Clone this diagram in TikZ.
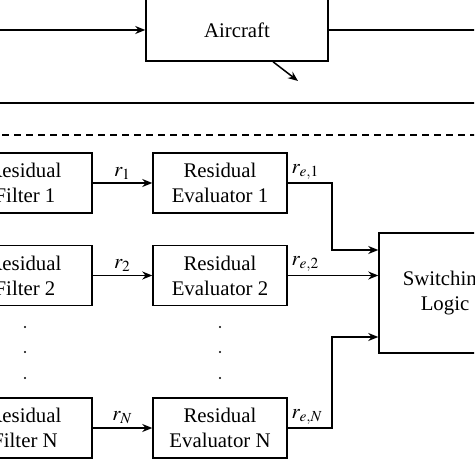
\documentclass[tikz,border=0pt]{standalone}
\usepackage{mathptmx}
\usepackage{fontspec}
\setmainfont{Liberation Serif}
\usetikzlibrary{arrows.meta}
\tikzset{
  blk/.style={draw,rectangle,line width=.75pt,minimum width=67pt,minimum height=30pt,align=center,inner sep=1pt},
  arr/.style={-{Stealth[length=5pt,width=4pt]},line width=.75pt},
  lbl/.style={inner sep=1.5pt}
}
\begin{document}
\begin{tikzpicture}[x=.5pt,y=-.5pt,font=\fontsize{10.4}{12.5}\selectfont]
	\clip (0,0) rectangle (474,474);
	% plant
	\node[blk,minimum width=91pt,minimum height=31pt] (air) at (237,30){Aircraft};
	\coordinate (u) at (-10,30);
	\coordinate (y) at (484,30);
	\coordinate (d) at (298,81);
	\draw[arr] (u)--(air);
	\draw[line width=.75pt] (air)--(y);
	\draw[arr] ([xshift=18pt]air.south)--(d);
	\draw[line width=.75pt] (-10,103)--(484,103);
	\draw[line width=.75pt,dash pattern=on 3.5pt off 2.5pt] (-10,135)--(484,135);
	% filter bank
	\node[blk] (f1) at (25,183){Residual\\Filter 1};
	\node[blk] (f2) at (25,275.5){Residual\\Filter 2};
	\node[blk] (fN) at (25,428){Residual\\Filter N};
	\node[blk] (e1) at (220,183){Residual\\Evaluator 1};
	\node[blk] (e2) at (220,275.5){Residual\\Evaluator 2};
	\node[blk] (eN) at (220,428){Residual\\Evaluator N};
	\node[blk,minimum width=66pt,minimum height=60pt] (sw) at (445,293){Switching\\Logic};
	\foreach \y in {327,352,378}{
		\fill (25,\y) circle (.6pt);
		\fill (220,\y) circle (.6pt);
		}
	\draw[arr] (f1)--node[lbl,above]{$r_1$}(e1);
	\draw[arr] (f2)--node[lbl,above]{$r_2$}(e2);
	\draw[arr] (fN)--node[lbl,above]{$r_N$}(eN);
	\draw[arr] (e1.east)node[lbl,above right]{$r_{e,1}$}--++(22pt,0)|-([yshift=21.5pt]sw.west);
	\draw[arr] (e2.east)node[lbl,above right]{$r_{e,2}$}--(e2.east-|sw.west);
	\draw[arr] (eN.east)node[lbl,above right]{$r_{e,N}$}--++(22pt,0)|-([yshift=-22pt]sw.west);
\end{tikzpicture}
\end{document}
